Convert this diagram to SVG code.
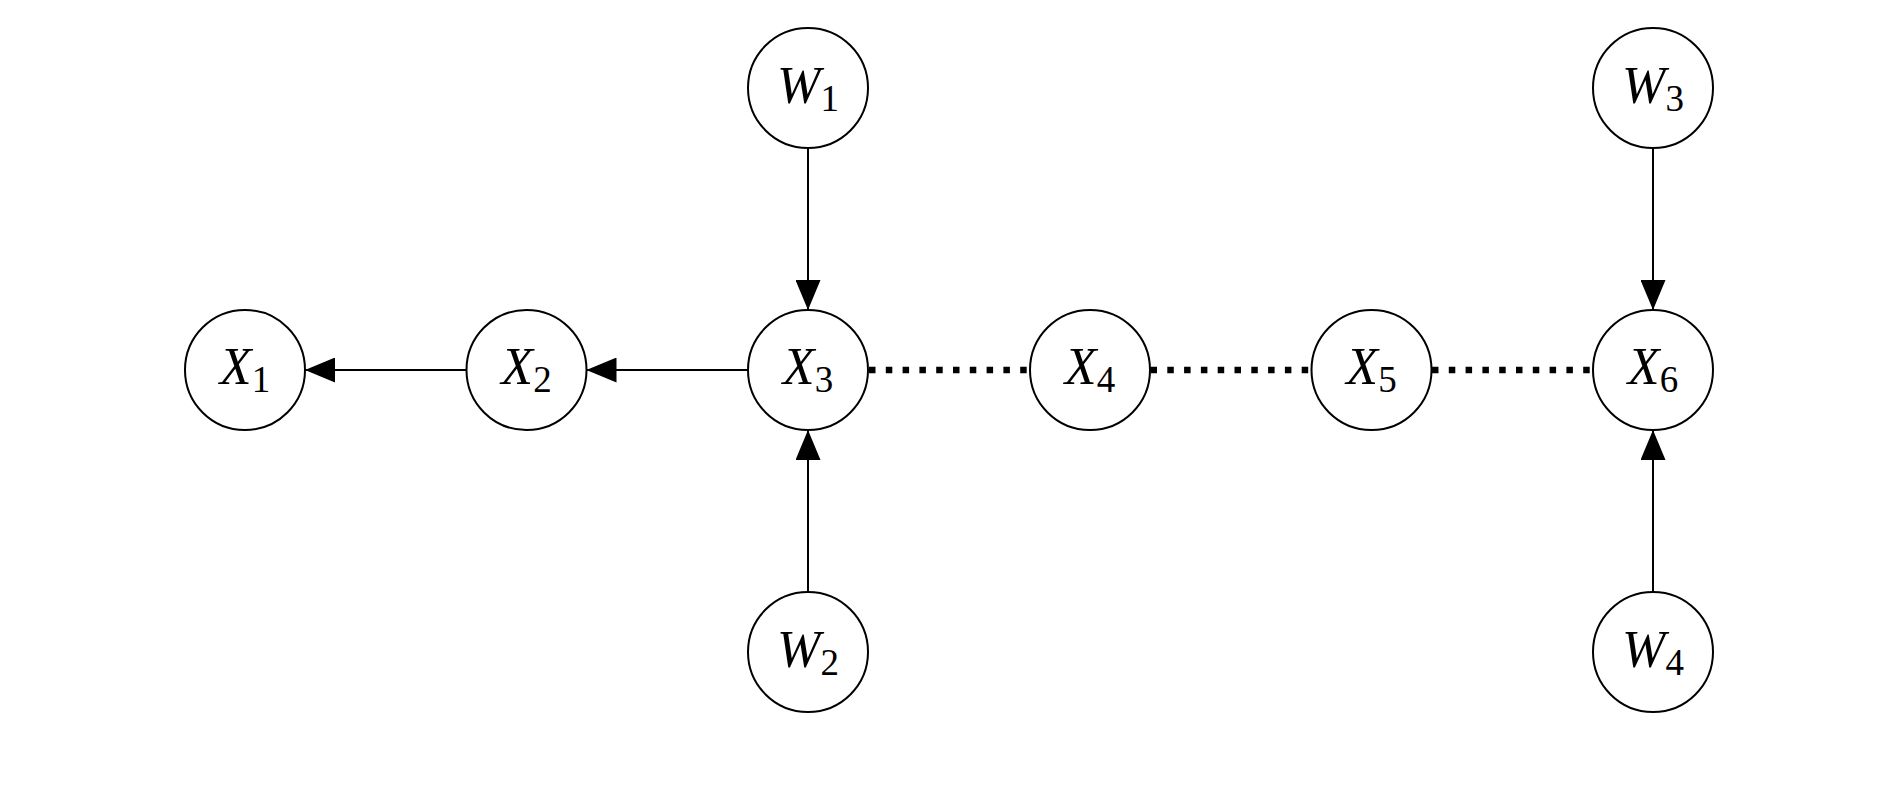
<svg xmlns="http://www.w3.org/2000/svg" width="1896" height="792" viewBox="0 0 1896 792">
<style>
.node circle{fill:#fff;stroke:#000;stroke-width:2}
.node text{font-family:"Liberation Serif",serif;font-size:52px;fill:#000}
.node .v{font-style:italic}
.node .s{font-size:37px}
.edge{stroke:#000;stroke-width:2;fill:none}
.dot{stroke:#000;stroke-width:6.5;stroke-dasharray:6.5 10.3;fill:none}
</style>
<defs>
<marker id="ah" viewBox="0 0 30 25" refX="30" refY="12.5" markerWidth="30" markerHeight="25" markerUnits="userSpaceOnUse" orient="auto">
<path d="M0,0 L30,12.5 L0,25 Z" fill="#000"/>
</marker>
</defs>
<rect width="1896" height="792" fill="#fff"/>
<g id="connectors">
<line class="edge" x1="808" y1="148" x2="808" y2="310" marker-end="url(#ah)"/>
<line class="edge" x1="808" y1="592" x2="808" y2="430" marker-end="url(#ah)"/>
<line class="edge" x1="1653" y1="148" x2="1653" y2="310" marker-end="url(#ah)"/>
<line class="edge" x1="1653" y1="592" x2="1653" y2="430" marker-end="url(#ah)"/>
<line class="edge" x1="748" y1="370" x2="586.5" y2="370" marker-end="url(#ah)"/>
<line class="edge" x1="466.5" y1="370" x2="305" y2="370" marker-end="url(#ah)"/>
<line class="dot" x1="869" y1="370" x2="1030" y2="370"/>
<line class="dot" x1="1150.5" y1="370" x2="1311.5" y2="370"/>
<line class="dot" x1="1432" y1="370" x2="1593" y2="370"/>
</g>
<g id="X1" class="node"><circle cx="245" cy="370" r="60"/><text x="245" y="384" text-anchor="middle"><tspan class="v">X</tspan><tspan class="s" dy="8">1</tspan></text></g>
<g id="X2" class="node"><circle cx="526.5" cy="370" r="60"/><text x="526.5" y="384" text-anchor="middle"><tspan class="v">X</tspan><tspan class="s" dy="8">2</tspan></text></g>
<g id="X3" class="node"><circle cx="808" cy="370" r="60"/><text x="808" y="384" text-anchor="middle"><tspan class="v">X</tspan><tspan class="s" dy="8">3</tspan></text></g>
<g id="X4" class="node"><circle cx="1090" cy="370" r="60"/><text x="1090" y="384" text-anchor="middle"><tspan class="v">X</tspan><tspan class="s" dy="8">4</tspan></text></g>
<g id="X5" class="node"><circle cx="1371.5" cy="370" r="60"/><text x="1371.5" y="384" text-anchor="middle"><tspan class="v">X</tspan><tspan class="s" dy="8">5</tspan></text></g>
<g id="X6" class="node"><circle cx="1653" cy="370" r="60"/><text x="1653" y="384" text-anchor="middle"><tspan class="v">X</tspan><tspan class="s" dy="8">6</tspan></text></g>
<g id="W1" class="node"><circle cx="808" cy="88" r="60"/><text x="808" y="103" text-anchor="middle"><tspan class="v">W</tspan><tspan class="s" dy="8">1</tspan></text></g>
<g id="W2" class="node"><circle cx="808" cy="652" r="60"/><text x="808" y="667" text-anchor="middle"><tspan class="v">W</tspan><tspan class="s" dy="8">2</tspan></text></g>
<g id="W3" class="node"><circle cx="1653" cy="88" r="60"/><text x="1653" y="103" text-anchor="middle"><tspan class="v">W</tspan><tspan class="s" dy="8">3</tspan></text></g>
<g id="W4" class="node"><circle cx="1653" cy="652" r="60"/><text x="1653" y="667" text-anchor="middle"><tspan class="v">W</tspan><tspan class="s" dy="8">4</tspan></text></g>
</svg>
